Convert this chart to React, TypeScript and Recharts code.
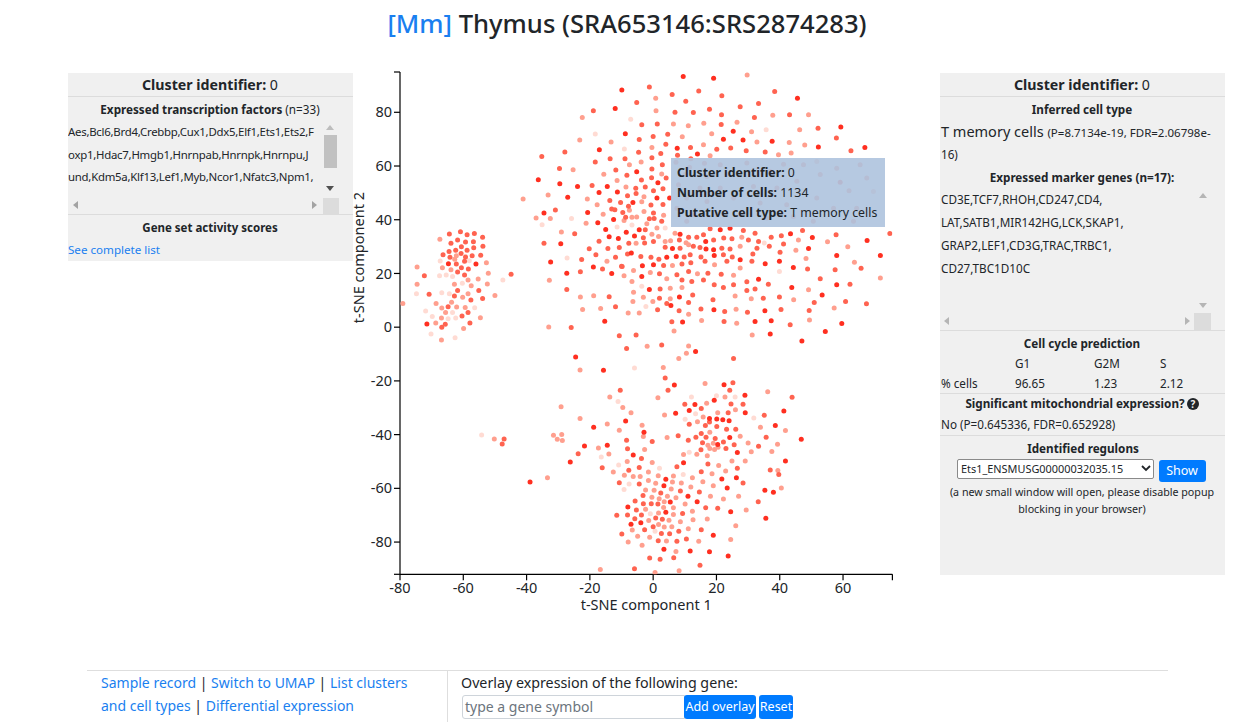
import { ScatterChart, Scatter, XAxis, YAxis } from 'recharts'

// t-SNE coordinates, grouped by how strong the red is
const strongCells = [
  [-64.7, 23.6], [-56, 23.5], [-71.5, 1.2], [-12, 81.4], [-17, 66.1], [-36.3, 54.9], [-29.5, 53.4], [-23.9, 52.4],
  [-14.5, 52.4], [-17.1, 50.1], [-11.3, 50.3], [-27, 48.4], [-34.5, 42.5], [-20.7, 42.7], [-12.5, 40.1], [-17.5, 38.9],
  [-15, 36.4], [-13.9, 33.7], [-11, 33], [-29.2, 31.1], [-32.4, 24.3], [-18.9, 22.4], [-27.3, 20.1], [-13.1, 20],
  [-15.3, 2.2], [-24.5, -11.1], [-15.7, -16], [-8.7, -34.9], [-18.8, -37.3], [-21.7, -44.2], [-14.5, -44], [-26.2, -50.2],
  [-38.9, -57.6], [-8, -66.9], [37, -2.5], [54.4, -1.6], [47, -5.1], [13.4, -9.1], [6.7, -21.5], [22.4, -21.4],
  [29, -25.3], [19.3, -27.2], [13.2, -28.8], [11.4, -31], [41.3, -31.2], [7.1, -32], [29.1, -31.9], [17.8, -34],
  [20.1, -34.2], [22, -34.5], [24, -34.8], [38.6, -36.6], [-2.9, -39.1], [24.2, -41.1], [46.8, -41.7], [20.4, -43.7],
  [26.6, -46.7], [-6.3, -47.6], [41.8, -49.8], [9.6, -50.5], [4, -56.6], [21.7, -56.5], [26.3, -56.1], [3.4, -59],
  [23.4, -59.9], [35.3, -60.7], [38, -61.5], [11, -62.9], [5.4, -65.1], [13.9, -65], [24.5, -68.7], [4, -68.9],
  [35.6, -71.1], [-3.9, -72.8], [-7, -73.4], [19, -77.5], [3.4, -82.7], [11.7, -83.3], [17.8, -83.6], [23.7, -85.2],
  [9.5, 93.3], [19.1, 92.7], [-9.9, 88.3], [45.6, 85.2], [59.3, 74.5], [25.3, 72.9], [-8.8, 72], [22.2, 70],
  [28.4, 69.7], [37.6, 69.2], [7.6, 66.6], [52.2, 67.1], [66.9, 66.9], [14, 64.5], [-5.2, 57.9], [59.1, 54],
  [1.5, 53.8], [1.2, 48.1], [5.2, 48.1], [-6.4, 46.4], [-4.4, 36.3], [-8.5, 35.3], [-5.9, 33.9], [8.5, 34.6],
  [21.2, 36.3], [24.3, 36.8], [43.4, 34.8], [50.3, 33.4], [67.6, 32.3], [16.6, 31.9], [6.1, 29.3], [16.7, 29.1],
  [19.1, 28.8], [49.1, 29.3], [-6.9, 27.6], [4.3, 26], [7.3, 26.3], [19.3, 26.7], [27.5, 25.1], [58, 26.7],
  [71.8, 26.7], [-3.4, 22.9], [0.1, 23.2], [35.4, 23.6], [39.9, 24.5], [44.3, 22.2], [-3.6, 18.9], [33.3, 17.8],
  [-1.2, 14], [43.8, 14.8], [58, 15.8], [8.3, 11.2], [53.4, 12], [5.6, 8.1], [19.2, 6.5], [35.3, 6.1],
  [9.3, 1.9], [32.2, 2.1], [37.3, 2.4], [59.6, 1.4], [12.7, 41.9],
]

const midCells = [
  [-60.9, 35.5], [-56.5, 34.9], [-58.8, 34.4], [-64.4, 34.7], [-53.9, 33.5], [-61.8, 32.5], [-59.3, 31.7], [-56.8, 31.8],
  [-63.9, 31.2], [-53.8, 30.1], [-60.6, 29.9], [-56.7, 29.6], [-58.8, 28.6], [-62.4, 28.6], [-64.5, 28.2], [-60.7, 27.4],
  [-66.4, 27], [-64.2, 26], [-59.3, 26.1], [-57.2, 26.6], [-54.5, 26.8], [-59.6, 24.5], [-62.2, 23.5], [-60.6, 22.1],
  [-58.4, 21.7], [-61.8, 20.5], [-59.6, 19.4], [-61.8, 13.7], [-55.1, 13.7], [-62.8, 11.6], [-53.9, 10.7], [-57.6, 10.1],
  [-64.8, 7.6], [-58.5, 5.5], [-60.4, 4.2], [-65.7, 1.1], [-57.9, 1.6], [-66.8, 0], [-72.3, 19.1], [-70.8, 12.3],
  [-44.9, 19.7], [-18.9, 80.6], [-35.2, 63.5], [-27.9, 65.2], [-13.6, 62.7], [-18.3, 61.5], [-29.6, 59.1], [-11.8, 58.5],
  [-19.3, 52.7], [-13.7, 47.2], [-10.3, 46.4], [-30.9, 43.6], [-13.1, 44], [-12.1, 43.7], [-24.8, 34.8], [-17.1, 32],
  [-34.5, 31.2], [-20.2, 29.2], [-14.3, 29.3], [-10.7, 29.7], [-18.1, 27], [-11.9, 26], [-22.6, 25.2], [-10, 22.7],
  [-16, 21.7], [-23, 20.6], [-27.3, 14], [-13.9, 11.3], [-11.9, 7.6], [-25.9, -0.1], [-10.7, -3.2], [-8.4, -7.9],
  [-10.4, -23.5], [-47.1, -41.6], [-47.7, -43.5], [-8.4, -42.1], [-8.1, -45.3], [-23.7, -47.1], [-16.1, -52.3], [-7.7, -53.3],
  [-10.7, -57.9], [-8.1, -69.9], [-11.5, -70], [-9.9, -77], [-5.4, -2.9], [2.7, -6.6], [25.4, -11.7], [3.8, -18.9],
  [25.2, -20.7], [24.2, -23.5], [4.7, -23.5], [43.9, -26.1], [10, -28.7], [24.6, -28.6], [28.4, -28.7], [15.2, -30.3],
  [23.7, -31.9], [35.1, -32.8], [17.8, -35.3], [11.4, -36.1], [16.5, -36.6], [20.1, -37], [23.2, -38], [26.1, -38],
  [15.2, -39.6], [7.9, -40.4], [13.5, -41], [16.7, -41], [19.6, -41.4], [35.7, -41], [-0.3, -42.6], [11.1, -42.1],
  [15.6, -43], [22.2, -42.7], [25.6, -43.8], [33.3, -44.3], [15.1, -45.6], [23, -45.2], [-3.7, -48.9], [17.3, -50.9],
  [7.5, -52], [-4.4, -52.2], [26.6, -52.5], [37, -53.2], [15.2, -53.8], [39.7, -54.8], [28.4, -58], [-4.4, -58.4],
  [8.6, -61], [14.6, -61.4], [2.4, -61.7], [-3.2, -62.7], [-5.7, -64.7], [33.2, -65], [-3.1, -65.7], [-0.6, -65.7],
  [1.5, -65.8], [16.6, -67.2], [20.4, -67.4], [-5.3, -68.1], [9.3, -69.4], [-3.7, -69.9], [0.8, -71], [2.9, -71.5],
  [-5.8, -71.3], [0, -74.3], [-2.7, -75.4], [15.2, -75.4], [8.1, -76], [2.6, -76.8], [5.2, -76.9], [10.5, -78.9],
  [1.6, -79.5], [7.5, -79.7], [-1.1, -85.9], [2.2, -86.4], [6.5, -85.8], [14.8, -88.6], [-5.9, -89.9], [-1.2, 89.4],
  [6, 86.6], [14.4, 87.9], [21.7, 86.2], [38.4, 87.7], [10.3, 84.1], [-5.2, 83.6], [33.3, 83.3], [27.5, 82.1],
  [17.8, 81.1], [6.9, 80], [12.7, 79.9], [21.6, 79.1], [32, 78.1], [43.1, 79.1], [-3.6, 75.4], [1.3, 75.6],
  [21.5, 75.5], [52.1, 74.1], [0, 71], [4.6, 71.8], [-4.4, 69.9], [57.9, 70.4], [4, 68.1], [11.8, 66.9],
  [20.1, 66.2], [29.4, 65.7], [24.5, 66.7], [-4.6, 65.1], [35.4, 65.2], [2.4, 64.7], [62.5, 65.7], [7.7, 64],
  [-0.4, 63.1], [-8.9, 62.7], [11.9, 62.7], [7.2, 61.4], [16.2, 61], [11.5, 59.5], [21.2, 60.5], [29.6, 61.1],
  [41.2, 60.7], [47.5, 60.5], [58, 59.2], [65.4, 60.5], [10.1, 56.8], [17, 56.1], [23.3, 56.8], [37, 58],
  [45.4, 54.3], [52.8, 56.8], [67.5, 55.5], [8, 53], [14.8, 51.8], [21.2, 51.8], [31.7, 52.4], [39.1, 51.8],
  [61.9, 50.8], [51.7, 48.1], [10.6, 48.1], [17, 46.8], [25.4, 48.1], [33.8, 46.2], [42.2, 45.6], [57, 44.3],
  [64.3, 44.3], [20.1, 41.9], [27.5, 41.9], [35.9, 40.6], [44.3, 41.2], [50.6, 39.4], [63.3, 39.4], [7.5, 44.3],
  [10.6, 39.4], [2.9, 60.5], [-0.4, 58.9], [-8.3, 56.6], [-3.7, 54.8], [-0.5, 55.6], [4.1, 55.5], [-5.5, 51.7],
  [-2.5, 52.2], [0.1, 50.8], [3.1, 51.5], [-5.4, 49.8], [-8.1, 48.9], [3.1, 45.7], [-0.7, 45.5], [-7.8, 45],
  [-9.6, 42.7], [0.1, 42.5], [-8.7, 40.9], [-1.2, 40.4], [0.3, 40.5], [2.7, 39.4], [-2.5, 36.3], [-3.1, 33.3],
  [11.2, 33.5], [13.8, 33.5], [15.9, 34.4], [18, 36.6], [28.5, 36], [32.2, 35], [37.3, 33.5], [40.5, 34],
  [47.2, 36], [57.8, 34.4], [74.8, 34.9], [-7.7, 31.2], [-2.7, 31.3], [0.1, 31.9], [8.3, 32.5], [19.1, 32.5],
  [22.3, 33.2], [24.9, 32.9], [30.1, 32.5], [33.3, 31.9], [41.2, 31], [8.5, 29.4], [3.8, 29.8], [12.7, 30.1],
  [14.8, 29.7], [21.7, 29.4], [24.3, 29.1], [32.8, 29.4], [36.7, 30.1], [-8.1, 27.2], [-3.9, 26.3], [-0.7, 26],
  [1.8, 25.3], [9.8, 26.1], [11.7, 27], [15.1, 26.1], [22.2, 27], [25, 26.1], [31.5, 27.2], [40.1, 27.9],
  [-9.8, 22.6], [3.3, 23], [9.1, 23.5], [11.9, 24], [16.4, 24.5], [23.3, 24.5], [31.2, 24.5], [48.8, 21.7],
  [57.5, 21.4], [65.7, 21.9], [2, 19.9], [7.5, 19.5], [11.2, 20.7], [17.3, 20.1], [21.5, 19.7], [29.6, 16.9],
  [52.8, 18], [9.1, 17.6], [12.2, 17], [15.9, 17.6], [2.2, 14.2], [19.3, 15.8], [25.4, 15.8], [36.4, 16],
  [62.2, 16], [2, 10.8], [12.5, 12], [22.2, 14.8], [29.6, 13.7], [32.2, 14.2], [39.9, 11.2], [4.3, 8.8],
  [11.2, 9.2], [18.9, 10.2], [34.8, 10.8], [50.9, 9.2], [60.8, 9.6], [67.4, 8.7], [1.4, 6.5], [8.2, 6.1],
  [15.1, 6.8], [22.6, 5.8], [29.8, 5.6], [40.4, 6.6], [49.3, 6.2], [5.9, 2], [22.4, 2.1], [43.3, 0.9],
]

const lightCells = [
  [-67.4, 32.7], [-62.2, 26.6], [-62.7, 25.3], [-52.7, 24], [-66.6, 22.1], [-63.9, 21.4], [-52.1, 20.1], [-58.5, 17.6],
  [-55.3, 17.9], [-62.8, 16], [-52.4, 16.1], [-57.5, 15.4], [-58.5, 12.4], [-60.2, 11.1], [-50, 11.8], [-63.7, 9.3],
  [-68.6, 8.8], [-62.1, 7.5], [-59.4, 7.3], [-66.8, 7.1], [-65.6, 5.5], [-66.9, 3.4], [-54.6, 3.5], [-68.7, 1.6],
  [-59.9, -0.5], [-74.6, 22.4], [-74.6, 16], [-79.1, 8.8], [-66.9, -4.8], [-22.4, 78.1], [-23.2, 69.7], [-13.3, 68.9],
  [-25.3, 58.6], [-15.6, 56.9], [-11.4, 54.6], [-33.2, 49.2], [-20.8, 47.7], [-41.1, 47.7], [-17.7, 45.6], [-15.8, 42],
  [-37, 40.6], [-32.5, 40.5], [-21.2, 38.7], [-29, 35.4], [-14.6, 24.5], [-32.8, 17.5], [-23, 11.2], [-18.8, 11.7],
  [-22.3, 6.6], [-16.6, 7], [-33, 0.1], [-23.1, -15.9], [-13.7, -26], [-9.6, -29.9], [-29.1, -29.6], [-23.1, -34],
  [-14.5, -36], [-10.7, -38.4], [-28.9, -40], [-31.5, -40.2], [-50.2, -41.6], [-30.3, -41.7], [-28.7, -42.2], [-17.3, -45],
  [-14, -47.2], [-8.2, -50], [-12.6, -53.9], [-9.1, -55.1], [-33.4, -56.1], [-7.9, -80], [-16.7, -90.2], [6.6, -1.4],
  [31.3, -2.9], [-1.9, -7.1], [11.2, -7], [10.5, -9.7], [8.1, -11.7], [3.2, -15], [16.4, -21], [36.2, -24],
  [1.5, -26.3], [22.7, -26], [16.9, -28.3], [26, -30.7], [-7, -31.9], [3.6, -32.7], [20.4, -31.9], [15.8, -33.4],
  [14, -35.2], [-3.5, -36.5], [33.9, -37.3], [41.8, -38.5], [17.9, -39.1], [-3.1, -40.7], [27.5, -40.6], [4.4, -41.1],
  [30, -43.1], [39.3, -43.6], [17.3, -44], [19, -43.2], [17.9, -45.2], [20.5, -44.7], [19.4, -45.5], [-2.7, -45.5],
  [31, -46.4], [37.5, -46.3], [9.6, -47.4], [13.8, -47.3], [17.1, -47.9], [24.9, -49.8], [29.1, -49.8], [-0.3, -50.4],
  [20.7, -51.5], [39.4, -53.4], [-1.5, -53.9], [22.9, -53.5], [18.6, -54.6], [-6.3, -55.6], [-4.1, -55.6], [1.6, -55.3],
  [6.4, -55.4], [12.4, -56.1], [-1.5, -57.1], [15.7, -57.5], [6.1, -57.6], [0.8, -58.1], [8.9, -58], [11.9, -59.5],
  [19, -59], [40.5, -59.9], [-2.4, -60.6], [0.3, -60.7], [5.7, -60.2], [-0.4, -63.3], [4.5, -62.9], [7.2, -63.5],
  [18.1, -62.9], [27, -62.9], [1.9, -63.9], [22.2, -64], [3.5, -65], [10.1, -65.8], [3.3, -67.1], [-2.4, -67.8],
  [6.4, -67.2], [29.4, -68.1], [12.4, -68.5], [1.7, -69.2], [6.4, -69.7], [12.6, -71.7], [17.1, -71.4], [-1.4, -72],
  [5, -71.9], [8.6, -72.4], [1.7, -73.5], [26.1, -73.9], [3.5, -74.4], [5.9, -74.3], [11.1, -75], [-6.6, -75.5],
  [-4.9, -77.8], [-1.1, -78.2], [24.5, -79], [4.2, -79.6], [14.4, -79.7], [-3.5, -81.2], [7.2, -83.5], [8.2, -90.7],
  [0.6, -91.3], [29.7, 93.9], [0.8, 85.2], [0.9, 80.6], [37.8, 78.9], [49.1, 79.1], [26.5, 76.3], [6.4, 75.6],
  [11.1, 75], [16, 75.9], [46.3, 73.5], [31.1, 72.8], [18.5, 72], [9.2, 70.9], [32.8, 68.9], [43, 68.8],
  [-0.4, 66.9], [15.9, 67.9], [47.9, 67.8], [43.6, 64.8], [39.6, 64.2], [18, 63.8], [51.7, 61.7], [69.6, 50.5],
  [-3.8, 61.5], [-7.5, 60.5], [2.7, 57], [-8.6, 52.2], [-2.9, 48.6], [-3.6, 46.7], [-2.9, 43.1], [-7.5, 43.5],
  [-5.2, 41], [3.3, 41.7], [-9.2, 39.7], [-6.7, 40.9], [-2, 38.5], [1.2, 36.9], [-0.4, 34.6], [1.7, 33.8],
  [6.9, 35], [28, 33.5], [45.9, 32.5], [55.1, 31.8], [-5.4, 31.2], [3.8, 31.9], [5.5, 32.2], [10.4, 31.4],
  [11.2, 30.7], [27.5, 30.1], [45.1, 28.6], [61.5, 29.9], [48.3, 25.6], [19.4, 23.2], [27.5, 22], [63.6, 24.2],
  [6.1, 23], [-6.2, 21.1], [-9.2, 19.1], [-0.9, 20.4], [14, 19.9], [25.4, 19.3], [71.8, 18.3], [-6.7, 17],
  [4.3, 18], [5.4, 14.5], [9.1, 14.8], [-6.2, 13], [-3.1, 11.1], [5.4, 10.6], [25.9, 11.6], [31, 10.6],
  [49.1, 13.9], [-6.4, 9.6], [-0.1, 9.6], [44.4, 10.2], [26.2, 6.7], [57.2, 7.1], [-7.9, 5.3], [-4.4, 5.3],
  [11.2, 4.8], [15.3, 2.5], [26.4, 1.5], [49.4, 2.7],
]

const paleCells = [
  [-67.3, 24.6], [-58.1, 24.7], [-67.5, 19.1], [-65.4, 19.4], [-63.4, 18.9], [-60.3, 16.4], [-66.8, 12.8], [-64.4, 12.4],
  [-56.4, 7.2], [-71.9, 6], [-63.4, 5.5], [-69.8, 4], [-64.8, 3.1], [-62.4, 3.4], [-74.8, 12.4], [-47.5, 17.6],
  [-62.6, -3.9], [-70.2, -2.5], [-18.3, 71.9], [-25.8, 40.5], [-35.1, 38.1], [-11.4, 37.3], [-27.2, 25.8], [-11.1, -27.7],
  [-54.2, -40.1], [-16.4, -48.3], [-10.9, -51.3], [-7.6, -58.4], [-9.2, -60.4], [-5.9, -15.2], [20, -25.5], [12.1, -26],
  [25.9, -26], [13.4, -32.2], [31.8, -33.8], [10.1, -34.3], [11.4, -46.6], [2, -52.5], [9.5, -54.8], [-0.9, -69.5],
  [0.6, -76], [-7.1, 77.4], [35.7, 73.5], [-9.1, 66.3], [-6.7, 38], [3.8, 36.9], [35.1, 31.3], [39.9, 20.7],
  [-3.6, 15.2], [-2.3, 7.7],
]

const xTicks = [-80, -60, -40, -20, 0, 20, 40, 60]
const yTicks = [-80, -60, -40, -20, 0, 20, 40, 60, 80]
const xDomain = [-80, 75.6]
const yDomain = [-92, 95]

const factorLines = [
  'Aes,Bcl6,Brd4,Crebbp,Cux1,Ddx5,Elf1,Ets1,Ets2,F',
  'oxp1,Hdac7,Hmgb1,Hnrnpab,Hnrnpk,Hnrnpu,J',
  'und,Kdm5a,Klf13,Lef1,Myb,Ncor1,Nfatc3,Npm1,',
  'Pcbp1,Rpl7,Rpl7a,Satb1,Sin3b,Smarcd2,Sox4,S',
]
const markerLines = [
  'CD3E,TCF7,RHOH,CD247,CD4,',
  'LAT,SATB1,MIR142HG,LCK,SKAP1,',
  'GRAP2,LEF1,CD3G,TRAC,TRBC1,',
  'CD27,TBC1D10C',
]
const cyclePhases = ['G1', 'G2M', 'S']
const cycleValues = ['96.65', '1.23', '2.12']
const cycleColumns = [1015, 1094, 1160]

const FONT = '"Noto Sans", "Open Sans", sans-serif'
const BLUE = '#1a7ff0'
const INK = '#212529'

function Txt({ x, y, size = 11.7, center, color = INK, weight, spacing, children }: any) {
  // y is the middle of the line, center means x is the middle of the text
  return (
    <div
      style={{
        position: 'absolute',
        left: x,
        top: y,
        transform: center ? 'translate(-50%, -50%)' : 'translateY(-50%)',
        fontSize: size,
        color,
        fontWeight: weight,
        letterSpacing: spacing,
        whiteSpace: 'nowrap',
        lineHeight: 1,
      }}
    >
      {children}
    </div>
  )
}

function Box({ x, y, w, h, style }: any) {
  return <div style={{ position: 'absolute', left: x, top: y, width: w, height: h, ...style }} />
}

function Arrow({ x, y, dir, color = '#a3a3a3' }: any) {
  const points: any = {
    up: '-4,2 4,2 0,-3',
    down: '-4,-2 4,-2 0,3',
    left: '2,-4 2,4 -3,0',
    right: '-2,-4 -2,4 3,0',
  }
  return (
    <svg style={{ position: 'absolute', left: x - 6, top: y - 6 }} width={12} height={12} viewBox="-6 -6 12 12">
      <polygon points={points[dir]} fill={color} />
    </svg>
  )
}

const Dot = (props: any) => <circle cx={props.cx} cy={props.cy} r={2.5} fill={props.fill} />

function Plot() {
  const series = [
    { name: 'pale', data: paleCells, fill: '#ffdbd3' },
    { name: 'light', data: lightCells, fill: '#ff9f8e' },
    { name: 'mid', data: midCells, fill: '#ff6350' },
    { name: 'strong', data: strongCells, fill: '#ff2f20' },
  ]
  return (
    <div style={{ position: 'absolute', left: 340, top: 60 }}>
      <ScatterChart width={560} height={555} margin={{ top: 12, right: 7.6, bottom: 0, left: 0 }}>
        <XAxis
          type="number"
          dataKey="x"
          domain={xDomain}
          ticks={[...xTicks, xDomain[1]]}
          tickFormatter={(v: number) => (xTicks.includes(v) ? String(v) : '')}
          interval={0}
          height={40.7}
          tickSize={6}
          allowDataOverflow
          tick={{ fill: INK, fontSize: 14.5, fontFamily: FONT }}
          tickLine={{ stroke: '#000', strokeWidth: 1.2 }}
          axisLine={{ stroke: '#000', strokeWidth: 1.2 }}
          label={{ value: 't-SNE component 1', position: 'insideBottom', offset: 5, fill: INK, fontSize: 14.5, fontFamily: FONT }}
        />
        <YAxis
          type="number"
          dataKey="y"
          domain={yDomain}
          ticks={[yDomain[0], ...yTicks, yDomain[1]]}
          tickFormatter={(v: number) => (yTicks.includes(v) ? String(v) : '')}
          interval={0}
          width={60}
          tickSize={6}
          allowDataOverflow
          tick={{ fill: INK, fontSize: 14.5, fontFamily: FONT }}
          tickLine={{ stroke: '#000', strokeWidth: 1.2 }}
          axisLine={{ stroke: '#000', strokeWidth: 1.2 }}
          label={{ value: 't-SNE component 2', angle: -90, position: 'insideLeft', offset: 19, fill: INK, fontSize: 14.5, fontFamily: FONT }}
        />
        {series.map((s) => (
          <Scatter
            key={s.name}
            name={s.name}
            data={s.data.map(([x, y]) => ({ x, y }))}
            fill={s.fill}
            shape={Dot}
            isAnimationActive={false}
          />
        ))}
      </ScatterChart>
    </div>
  )
}

function LeftPanel() {
  return (
    <>
      <Box x={68} y={73} w={285} h={188} style={{ background: '#f0f0f0' }} />
      <Box x={68} y={96} w={285} h={1} style={{ background: '#dcdcdc' }} />
      <Box x={68} y={214} w={285} h={1} style={{ background: '#dcdcdc' }} />
      <Txt x={210} y={85} size={14.2} center>
        <b>Cluster identifier:</b> 0
      </Txt>
      <Txt x={210} y={110} center>
        <b>Expressed transcription factors</b> (n=33)
      </Txt>
      <div style={{ position: 'absolute', left: 68, top: 121, width: 256, height: 75, overflow: 'hidden' }}>
        {factorLines.map((line, i) => (
          <Txt key={line} x={0} y={11 + i * 22.7} size={11.4} spacing={-0.25}>
            {line}
          </Txt>
        ))}
      </div>
      <Arrow x={330} y={128} dir="up" color="#bdbdbd" />
      <Box x={324} y={135} w={13} h={33} style={{ background: '#c1c1c1' }} />
      <Arrow x={330} y={188} dir="down" color="#505050" />
      <Box x={323} y={198} w={16} h={16} style={{ background: '#dcdcdc' }} />
      <Arrow x={76} y={205} dir="left" />
      <Arrow x={314} y={205} dir="right" />
      <Txt x={210} y={228} size={11.5} center>
        <b>Gene set activity scores</b>
      </Txt>
      <Txt x={68} y={250} size={11.6} color={BLUE}>
        See complete list
      </Txt>
    </>
  )
}

function RightPanel() {
  return (
    <>
      <Box x={940} y={73} w={285} h={502} style={{ background: '#f0f0f0' }} />
      {[96, 330, 393, 435].map((y) => (
        <Box key={y} x={940} y={y} w={285} h={1} style={{ background: '#dcdcdc' }} />
      ))}
      <Txt x={1082} y={85} size={14.2} center>
        <b>Cluster identifier:</b> 0
      </Txt>
      <Txt x={1082} y={110} center>
        <b>Inferred cell type</b>
      </Txt>
      <Txt x={941} y={131} size={14.5}>
        T memory cells <span style={{ fontSize: 11.5 }}>(P=8.7134e-19, FDR=2.06798e-</span>
      </Txt>
      <Txt x={941} y={155}>
        16)
      </Txt>
      <Txt x={1082} y={178} center>
        <b>Expressed marker genes (n=17):</b>
      </Txt>
      {markerLines.map((line, i) => (
        <Txt key={line} x={941} y={200 + i * 23}>
          {line}
        </Txt>
      ))}
      <Arrow x={1203} y={196} dir="up" color="#b5b5b5" />
      <Arrow x={1203} y={305} dir="down" color="#b5b5b5" />
      <Arrow x={947} y={321} dir="left" color="#b5b5b5" />
      <Arrow x={1187} y={321} dir="right" color="#b5b5b5" />
      <Box x={1194} y={313} w={17} h={17} style={{ background: '#dcdcdc' }} />
      <Txt x={1082} y={344} center>
        <b>Cell cycle prediction</b>
      </Txt>
      {cyclePhases.map((p, i) => (
        <Txt key={p} x={cycleColumns[i]} y={364}>
          {p}
        </Txt>
      ))}
      <Txt x={941} y={384}>
        % cells
      </Txt>
      {cycleValues.map((v, i) => (
        <Txt key={v} x={cycleColumns[i]} y={384}>
          {v}
        </Txt>
      ))}
      <Txt x={1075} y={404} center>
        <b>Significant mitochondrial expression?</b>
      </Txt>
      <svg style={{ position: 'absolute', left: 1187, top: 398 }} width={12} height={12} viewBox="0 0 12 12">
        <circle cx={6} cy={6} r={6} fill={INK} />
        <text x={6} y={9.6} textAnchor="middle" fontSize={10} fontWeight={700} fill="#f0f0f0" fontFamily={FONT}>
          ?
        </text>
      </svg>
      <Txt x={941} y={425}>
        No (P=0.645336, FDR=0.652928)
      </Txt>
      <Txt x={1083} y={449} center>
        <b>Identified regulons</b>
      </Txt>
      <Box x={957} y={459} w={195} h={18} style={{ background: '#fff', border: '1.5px solid #8a8a8a', borderRadius: 2 }} />
      <Txt x={961} y={469} size={10.9}>
        Ets1_ENSMUSG00000032035.15
      </Txt>
      <svg style={{ position: 'absolute', left: 1141, top: 465 }} width={10} height={8} viewBox="0 0 10 8">
        <polyline points="1,1 5,5 9,1" fill="none" stroke={INK} strokeWidth={1.8} />
      </svg>
      <Box x={1159} y={460} w={47} h={22} style={{ background: '#007bff', borderRadius: 3 }} />
      <Txt x={1182} y={471} size={12.5} color="#fff" center>
        Show
      </Txt>
      <Txt x={1082} y={492} size={10.7} center>
        (a new small window will open, please disable popup
      </Txt>
      <Txt x={1082} y={509} size={10.7} center>
        blocking in your browser)
      </Txt>
    </>
  )
}

function Footer() {
  const sep = <span style={{ color: INK }}> | </span>
  return (
    <>
      <Box x={87} y={670} w={1081} h={1} style={{ background: '#dedede' }} />
      <Box x={447} y={671} w={1} h={51} style={{ background: '#dedede' }} />
      <Txt x={101} y={683} size={14} color={BLUE}>
        Sample record{sep}Switch to UMAP{sep}List clusters
      </Txt>
      <Txt x={101} y={706} size={14} color={BLUE}>
        and cell types{sep}Differential expression
      </Txt>
      <Txt x={461} y={683} size={14.25}>
        Overlay expression of the following gene:
      </Txt>
      <Box x={462} y={695} w={221} h={22} style={{ background: '#fff', border: '1px solid #ced4da', borderRadius: '3px 0 0 3px' }} />
      <Txt x={465} y={707} size={14} color="#6c757d">
        type a gene symbol
      </Txt>
      <Box x={684} y={695} w={72} h={24} style={{ background: '#007bff', borderRadius: 3 }} />
      <Txt x={720} y={707} size={12.5} color="#fff" center>
        Add overlay
      </Txt>
      <Box x={759} y={695} w={34} h={24} style={{ background: '#007bff', borderRadius: 3 }} />
      <Txt x={776} y={707} size={12.5} color="#fff" center>
        Reset
      </Txt>
    </>
  )
}

export default function App() {
  return (
    <div
      style={{
        position: 'absolute',
        left: 0,
        top: 0,
        width: 1240,
        height: 722,
        overflow: 'hidden',
        background: '#fff',
        fontFamily: FONT,
      }}
    >
      <Txt x={627} y={24} size={25.6} center weight={500}>
        <span style={{ color: BLUE }}>[Mm]</span> Thymus (SRA653146:SRS2874283)
      </Txt>
      <LeftPanel />
      <Plot />
      <div style={{ position: 'absolute', left: 671, top: 158, width: 214, height: 69, background: 'rgba(176,196,222,0.92)' }} />
      <Txt x={677} y={173} size={12.3}>
        <b>Cluster identifier:</b> 0
      </Txt>
      <Txt x={677} y={193} size={12.3}>
        <b>Number of cells:</b> 1134
      </Txt>
      <Txt x={677} y={213} size={12.3}>
        <b>Putative cell type:</b> T memory cells
      </Txt>
      <RightPanel />
      <Footer />
    </div>
  )
}
